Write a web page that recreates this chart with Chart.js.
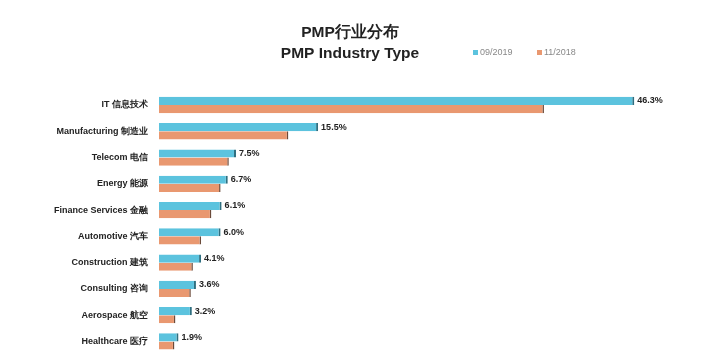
<!DOCTYPE html>
<html>
<head>
<meta charset="utf-8">
<script src="https://cdn.jsdelivr.net/npm/chart.js@4/dist/chart.umd.min.js"></script>
<style>
    html, body { margin: 0; padding: 0; background: #fff; overflow: hidden; }
    #wrap { position: relative; width: 720px; height: 363px; }
</style>
</head>
<body>
<div id="wrap"><canvas id="industryChart"></canvas></div>
<script>
/**
 * PMP industry type - horizontal grouped bars
 */

const categories = [
    'IT 信息技术', 'Manufacturing 制造业', 'Telecom 电信', 'Energy 能源',
    'Finance Services 金融', 'Automotive 汽车', 'Construction 建筑',
    'Consulting 咨询', 'Aerospace 航空', 'Healthcare 医疗'
];
const values2019 = [46.3, 15.5, 7.5, 6.7, 6.1, 6.0, 4.1, 3.6, 3.2, 1.9];
const values2018 = [37.5, 12.6, 6.8, 6.0, 5.1, 4.1, 3.3, 3.1, 1.6, 1.5];
const seriesLabels = ['09/2019', '11/2018'];
const titleLines = ['PMP行业分布', 'PMP Industry Type'];

const BLUE = '#5cc3de';
const ORANGE = '#e99870';

// Value labels at the end of the 2019 bars
const valueLabels = {
    id: 'valueLabels',
    afterDatasetsDraw(chart) {
        const ctx = chart.ctx;
        const meta = chart.getDatasetMeta(0);
        ctx.save();
        ctx.font = 'bold 9px "Liberation Sans", Arial, sans-serif';
        ctx.fillStyle = '#222';
        ctx.textBaseline = 'middle';
        ctx.textAlign = 'left';
        meta.data.forEach((bar, i) => {
            ctx.fillText(values2019[i].toFixed(1) + '%', bar.x + 3, bar.y);
        });
        ctx.restore();
    }
};

// Small legend sitting beside the second title line
const sideLegend = {
    id: 'sideLegend',
    afterDraw(chart) {
        const ctx = chart.ctx;
        const colors = [BLUE, ORANGE];
        const xs = [473, 537];
        ctx.save();
        ctx.font = '9px "Liberation Sans", Arial, sans-serif';
        ctx.textBaseline = 'middle';
        seriesLabels.forEach((label, i) => {
            ctx.fillStyle = colors[i];
            ctx.fillRect(xs[i], 50, 5, 5);
            ctx.fillStyle = '#888';
            ctx.fillText(label, xs[i] + 7, 53);
        });
        ctx.restore();
    }
};

function init() {
    const ctx = document.getElementById('industryChart').getContext('2d');

    new Chart(ctx, {
        type: 'bar',
        data: {
            labels: categories,
            datasets: [
                {
                    label: seriesLabels[0],
                    data: values2019,
                    backgroundColor: BLUE,
                    borderColor: '#2f6f80',
                    borderWidth: { right: 2, top: 0, bottom: 0, left: 0 },
                    borderSkipped: false,
                },
                {
                    label: seriesLabels[1],
                    data: values2018,
                    backgroundColor: ORANGE,
                    borderColor: '#6b4a3a',
                    borderWidth: { right: 1.5, top: 0, bottom: 0, left: 0 },
                    borderSkipped: false,
                },
            ],
        },
        options: {
            indexAxis: 'y',
            responsive: true,
            maintainAspectRatio: false,
            animation: false,
            categoryPercentage: 0.62,
            barPercentage: 1,
            layout: { padding: { left: 0, right: 20, top: 0, bottom: 0 } },
            plugins: {
                legend: { display: false },
                tooltip: { enabled: false },
                title: {
                    display: true,
                    text: titleLines,
                    color: '#222',
                    font: { family: '"Liberation Sans", Arial, sans-serif', size: 15.5, weight: 'bold', lineHeight: 1.35 },
                    padding: { top: 22, bottom: 28 },
                },
            },
            scales: {
                x: {
                    display: false,
                    min: 0,
                    max: 52.7,
                },
                y: {
                    grid: { display: false },
                    border: { display: false },
                    ticks: {
                        color: '#222',
                        padding: 3,
                        font: { family: '"Liberation Sans", Arial, sans-serif', size: 9, weight: 'bold' },
                    },
                    afterFit(scale) {
                        scale.width = 159;
                    },
                },
            },
        },
        plugins: [valueLabels, sideLegend],
    });
}

init();
</script>
</body>
</html>
